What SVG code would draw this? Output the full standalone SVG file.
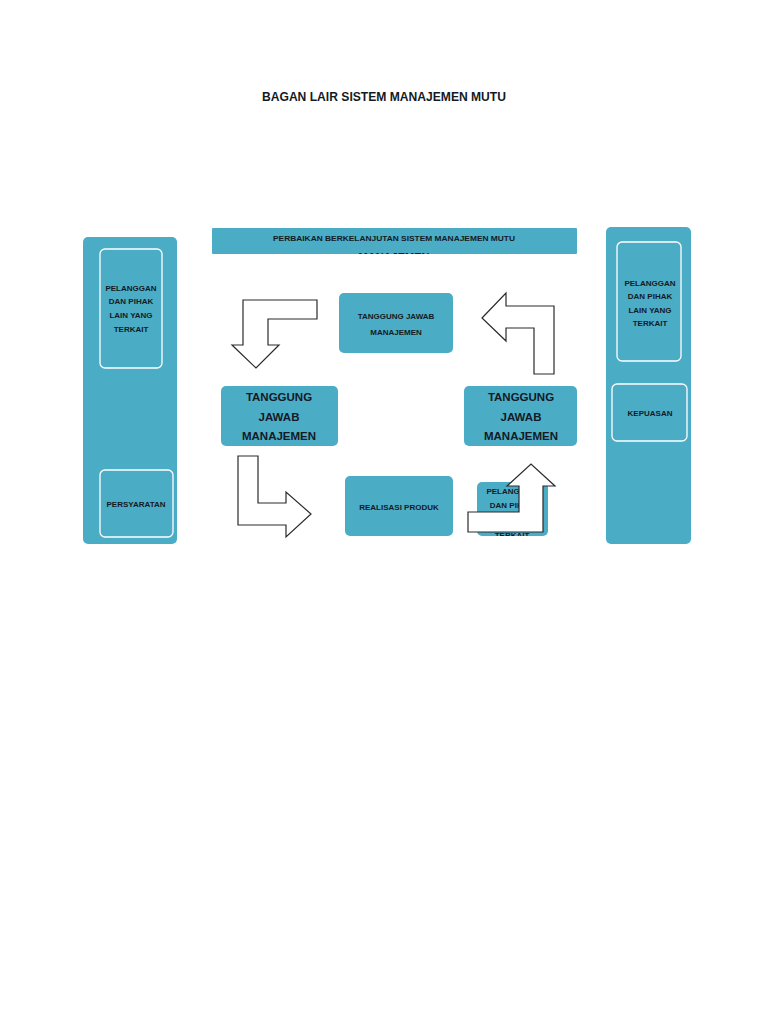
<svg xmlns="http://www.w3.org/2000/svg" width="768" height="1024" viewBox="0 0 768 1024">
<style>
.panel{fill:#4BACC6;}
.inner{fill:none;stroke:#ffffff;stroke-width:1.3;}
.t{font-family:"Liberation Sans",Arial,sans-serif;font-weight:bold;fill:#141a24;text-anchor:middle;}
.s{font-size:8px;}
.m{font-size:11.5px;}
.arr{fill:#ffffff;stroke:#2a2a2a;stroke-width:1.2;stroke-linejoin:miter;}
</style>
<defs>
<clipPath id="bannerClip"><rect x="212" y="228" width="365" height="26"/></clipPath>
<clipPath id="brClip"><rect x="477" y="482" width="71" height="54" rx="5"/></clipPath>
</defs>
<rect width="768" height="1024" fill="#ffffff"/>
<text class="t" x="384" y="101" font-size="12.5" textLength="244" lengthAdjust="spacingAndGlyphs">BAGAN LAIR SISTEM MANAJEMEN MUTU</text>

<g id="left-panel">
<rect class="panel" x="83" y="237" width="94" height="307" rx="5"/>
<g id="left-pelanggan">
<rect class="inner" x="100" y="249" width="62" height="119" rx="5"/>
<text class="t s" x="131" y="291">PELANGGAN</text>
<text class="t s" x="131" y="304">DAN PIHAK</text>
<text class="t s" x="131" y="318">LAIN YANG</text>
<text class="t s" x="131" y="332">TERKAIT</text>
</g>
<g id="left-persyaratan">
<rect class="inner" x="100" y="470" width="73" height="67" rx="5"/>
<text class="t s" x="136" y="507">PERSYARATAN</text>
</g>
</g>

<g id="right-panel">
<rect class="panel" x="606" y="227" width="85" height="317" rx="5"/>
<g id="right-pelanggan">
<rect class="inner" x="617" y="242" width="64" height="119" rx="5"/>
<text class="t s" x="650" y="286">PELANGGAN</text>
<text class="t s" x="650" y="299">DAN PIHAK</text>
<text class="t s" x="650" y="313">LAIN YANG</text>
<text class="t s" x="650" y="326">TERKAIT</text>
</g>
<g id="right-kepuasan">
<rect class="inner" x="612" y="384" width="75" height="57" rx="5"/>
<text class="t s" x="650" y="416">KEPUASAN</text>
</g>
</g>

<g id="banner">
<rect class="panel" x="212" y="228" width="365" height="26" rx="1"/>
<text class="t s" x="394" y="241" textLength="242" lengthAdjust="spacingAndGlyphs">PERBAIKAN BERKELANJUTAN SISTEM MANAJEMEN MUTU</text>
<text class="t" x="394" y="261" font-size="11" clip-path="url(#bannerClip)">MANAJEMEN</text>
</g>

<g id="box-top">
<rect class="panel" x="339" y="293" width="114" height="60" rx="5"/>
<text class="t s" x="396" y="319">TANGGUNG JAWAB</text>
<text class="t s" x="396" y="335">MANAJEMEN</text>
</g>

<g id="box-left">
<rect class="panel" x="221" y="386" width="117" height="60" rx="5"/>
<text class="t m" x="279" y="401">TANGGUNG</text>
<text class="t m" x="279" y="421">JAWAB</text>
<text class="t m" x="279" y="440">MANAJEMEN</text>
</g>

<g id="box-right">
<rect class="panel" x="464" y="386" width="113" height="60" rx="5"/>
<text class="t m" x="521" y="401">TANGGUNG</text>
<text class="t m" x="521" y="421">JAWAB</text>
<text class="t m" x="521" y="440">MANAJEMEN</text>
</g>

<g id="box-realisasi">
<rect class="panel" x="345" y="476" width="108" height="60" rx="5"/>
<text class="t s" x="399" y="510">REALISASI PRODUK</text>
</g>

<g id="box-bottom-right">
<rect class="panel" x="477" y="482" width="71" height="54" rx="5"/>
<g clip-path="url(#brClip)">
<text class="t s" x="512" y="494">PELANGGAN</text>
<text class="t s" x="512" y="508">DAN PIHAK</text>
<text class="t s" x="512" y="522">LAIN YANG</text>
<text class="t s" x="512" y="538">TERKAIT</text>
</g>
</g>

<g id="connectors">
<polygon class="arr" points="243,300 317,300 317,319 268,319 268,345 279,345 256,368 232,345 243,345"/>
<polygon class="arr" points="482,318 506,293 506,306 554,306 554,374 534,374 534,328 506,328 506,341"/>
<polygon class="arr" points="238,456 258,456 258,503 286,503 286,492 311,514 286,537 286,525 238,525"/>
<polygon class="arr" points="468,512 519,512 519,486 507,486 531,464 555,486 543,486 543,532 468,532"/>
</g>
</svg>
